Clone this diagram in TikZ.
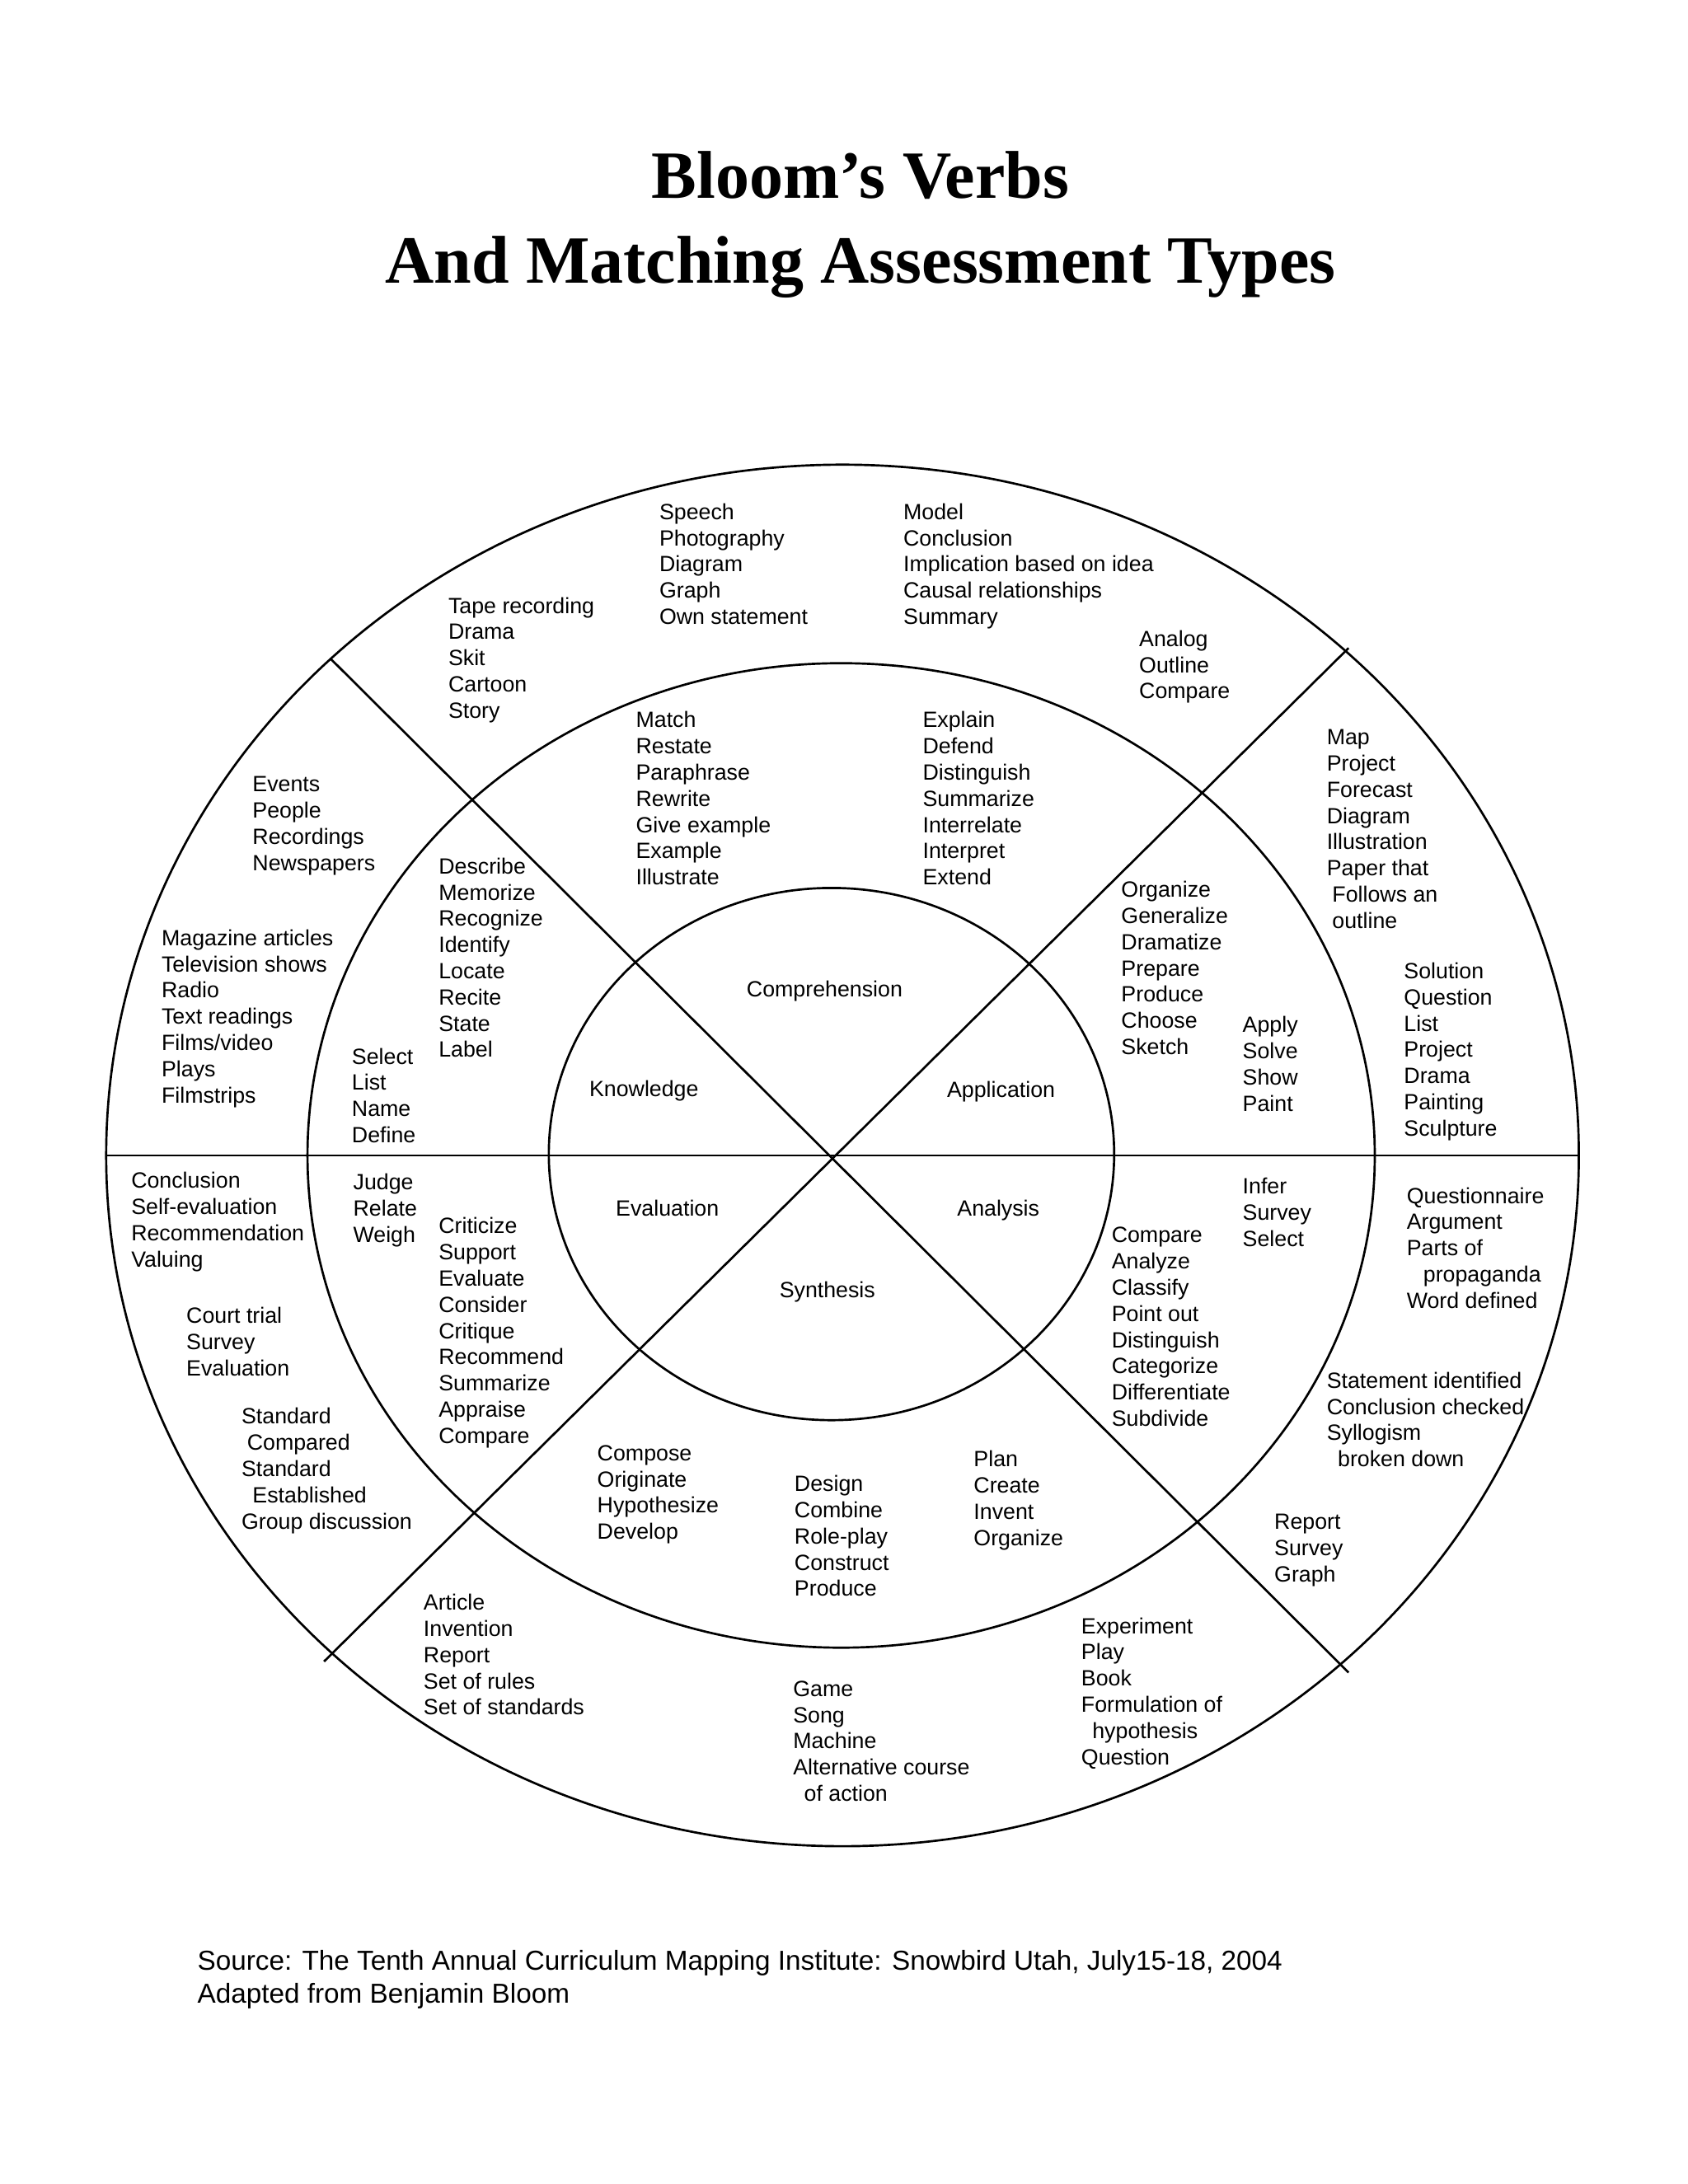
\documentclass[tikz,border=0pt]{standalone}
\usepackage{fontspec}
\setmainfont{Liberation Sans}
\newfontfamily\titlefont{Liberation Serif}
\begin{document}
\begin{tikzpicture}[x=1pt,y=-1pt,
  txt/.style={anchor=north west,inner sep=0pt,align=left,font=\fontsize{16}{19}\selectfont},
  lbl/.style={inner sep=0pt,font=\fontsize{16}{19}\selectfont},
  ring/.style={draw,line width=1.6pt}]
\useasboundingbox (0,0) rectangle (1224,1584);
\node[font=\titlefont\bfseries\fontsize{49}{62}\selectfont,align=center] (title) at (624,163) {Bloom’s Verbs\\And Matching Assessment Types};
\draw[ring] (611,838) ellipse [x radius=534,y radius=501];
\draw[ring] (610,838) ellipse [x radius=387,y radius=357];
\draw[ring] (603,837) ellipse [x radius=205,y radius=193];
\coordinate (c) at (603,838);
\draw[ring] (77,838) -- (1145,838);
\draw[ring] (240,478) -- (978,1213);
\draw[ring] (978,470) -- (235,1205);
\newcommand{\blk}[4]{\node[txt] (#1) at (#2,#3-6) {#4};}
\blk{a1}{478}{371}{Speech\\Photography\\Diagram\\Graph\\Own statement}
\blk{a2}{655}{371}{Model\\Conclusion\\Implication based on idea\\Causal relationships\\Summary}
\blk{a3}{325}{439}{Tape recording\\Drama\\Skit\\Cartoon\\Story}
\blk{a4}{826}{463}{Analog\\Outline\\Compare}
\blk{a5}{461}{522}{Match\\Restate\\Paraphrase\\Rewrite\\Give example\\Example\\Illustrate}
\blk{a6}{669}{522}{Explain\\Defend\\Distinguish\\Summarize\\Interrelate\\Interpret\\Extend}
\blk{a7}{962}{535}{Map\\Project\\Forecast\\Diagram\\Illustration\\Paper that\\\hspace*{4pt}Follows an\\\hspace*{4pt}outline}
\blk{a8}{183}{569}{Events\\People\\Recordings\\Newspapers}
\blk{a9}{318}{628}{Describe\\Memorize\\Recognize\\Identify\\Locate\\Recite\\State\\Label}
\blk{a10}{813}{645}{Organize\\Generalize\\Dramatize\\Prepare\\Produce\\Choose\\Sketch}
\blk{a11}{117}{680}{Magazine articles\\Television shows\\Radio\\Text readings\\Films/video\\Plays\\Filmstrips}
\blk{a12}{1018}{704}{Solution\\Question\\List\\Project\\Drama\\Painting\\Sculpture}
\blk{a13}{901}{743}{Apply\\Solve\\Show\\Paint}
\blk{a14}{255}{766}{Select\\List\\Name\\Define}
\blk{a15}{95}{856}{Conclusion\\Self-evaluation\\Recommendation\\Valuing}
\blk{a16}{256}{857}{Judge\\Relate\\Weigh}
\blk{a17}{901}{860}{Infer\\Survey\\Select}
\blk{a18}{1020}{867}{Questionnaire\\Argument\\Parts of\\\hspace*{12pt}propaganda\\Word defined}
\blk{a19}{318}{889}{Criticize\\Support\\Evaluate\\Consider\\Critique\\Recommend\\Summarize\\Appraise\\Compare}
\blk{a20}{806}{896}{Compare\\Analyze\\Classify\\Point out\\Distinguish\\Categorize\\Differentiate\\Subdivide}
\blk{a21}{135}{954}{Court trial\\Survey\\Evaluation}
\blk{a22}{962}{1001}{Statement identified\\Conclusion checked\\Syllogism\\\hspace*{8pt}broken down}
\blk{a23}{175}{1027}{Standard\\\hspace*{4pt}Compared\\Standard\\\hspace*{8pt}Established\\Group discussion}
\blk{a24}{433}{1054}{Compose\\Originate\\Hypothesize\\Develop}
\blk{a25}{706}{1058}{Plan\\Create\\Invent\\Organize}
\blk{a26}{576}{1076}{Design\\Combine\\Role-play\\Construct\\Produce}
\blk{a27}{924}{1104}{Report\\Survey\\Graph}
\blk{a28}{307}{1162}{Article\\Invention\\Report\\Set of rules\\Set of standards}
\blk{a29}{784}{1179}{Experiment\\Play\\Book\\Formulation of\\\hspace*{8pt}hypothesis\\Question}
\blk{a30}{575}{1225}{Game\\Song\\Machine\\Alternative course\\\hspace*{8pt}of action}
\node[lbl] (k1) at (598,719) {Comprehension};
\node[lbl] (k2) at (467,791) {Knowledge};
\node[lbl] (k3) at (726,792) {Application};
\node[lbl] (k4) at (484,876) {Evaluation};
\node[lbl] (k5) at (724,878) {Analysis};
\node[lbl] (k6) at (600,937) {Synthesis};
\node[anchor=north west,inner sep=0pt,align=left,font=\fontsize{19.9}{24}\selectfont] (src) at (143,1414) {Source: The Tenth Annual Curriculum Mapping Institute: Snowbird Utah, July15-18, 2004\\Adapted from Benjamin Bloom};
\end{tikzpicture}
\end{document}
